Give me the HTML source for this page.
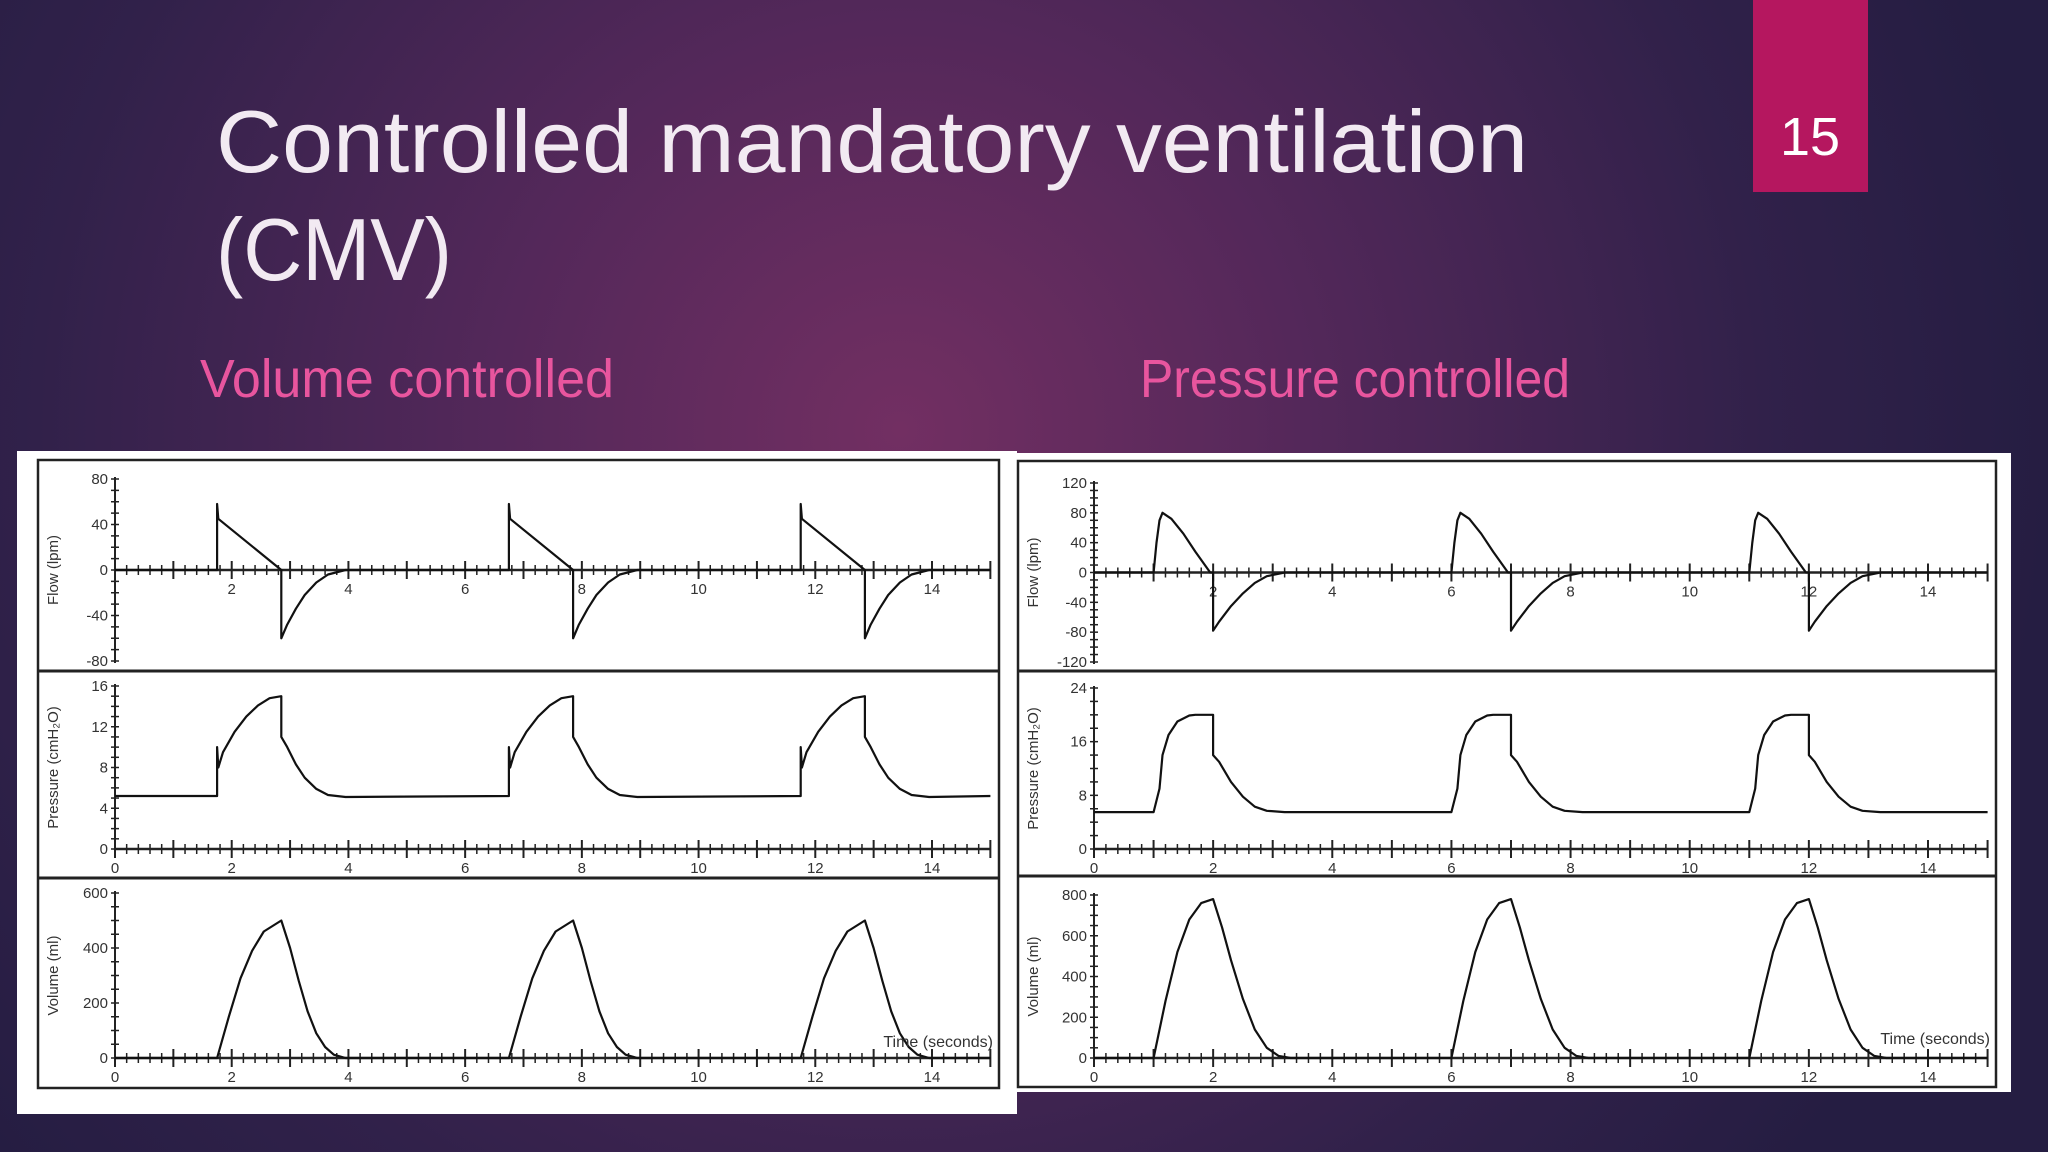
<!DOCTYPE html>
<html><head><meta charset="utf-8">
<style>
html,body{margin:0;padding:0;width:2048px;height:1152px;overflow:hidden;background:#2a1f45;}
svg{display:block}
</style></head>
<body>
<svg id="slide" width="2048" height="1152" viewBox="0 0 2048 1152" xmlns="http://www.w3.org/2000/svg">
<defs>
<radialGradient id="bg" cx="900" cy="430" r="1150" gradientUnits="userSpaceOnUse">
<stop offset="0" stop-color="#722f62"/>
<stop offset="0.35" stop-color="#54285a"/>
<stop offset="0.75" stop-color="#31214a"/>
<stop offset="1" stop-color="#251d42"/>
</radialGradient>
</defs>
<rect x="0" y="0" width="2048" height="1152" fill="url(#bg)"/>
<g fill="#f2eaf2" font-family="Liberation Sans, sans-serif" font-size="88">
<text x="216" y="172" textLength="1312" lengthAdjust="spacingAndGlyphs">Controlled mandatory ventilation</text>
<text x="216" y="280" textLength="236" lengthAdjust="spacingAndGlyphs">(CMV)</text>
</g>
<rect x="1753" y="0" width="115" height="192" fill="#b5175f"/>
<text x="1810" y="155" text-anchor="middle" fill="#ffffff" font-family="Liberation Sans, sans-serif" font-size="54">15</text>
<text x="200" y="397" fill="#e8559e" font-family="Liberation Sans, sans-serif" font-size="54" textLength="414" lengthAdjust="spacingAndGlyphs">Volume controlled</text>
<text x="1140" y="397" fill="#e8559e" font-family="Liberation Sans, sans-serif" font-size="54" textLength="430" lengthAdjust="spacingAndGlyphs">Pressure controlled</text>
<g id="charts"></g>
</svg>
<script>
// ---- data: one breath template (offset seconds from breath start, value) ----
const vcBreathStarts = [1.75, 6.75, 11.75];
const vcFlowT = [0, 0, 0.02, 1.1, 1.1, 1.2, 1.35, 1.5, 1.7, 1.9, 2.2];
const vcFlowV = [0, 58, 45, 0, -60, -48, -34, -22, -11, -4, 0];
const vcFlowBase = 0;
const vcPresT = [0, 0, 0.02, 0.1, 0.3, 0.5, 0.7, 0.9, 1.1, 1.1, 1.2, 1.35, 1.5, 1.7, 1.9, 2.2];
const vcPresV = [5.2, 10, 8, 9.5, 11.5, 13, 14.1, 14.8, 15, 11, 10, 8.3, 7, 5.9, 5.3, 5.1];
const vcPresBase = 5.2;
const vcVolT = [0, 0.2, 0.4, 0.6, 0.8, 1.1, 1.25, 1.4, 1.55, 1.7, 1.85, 2.0, 2.2];
const vcVolV = [0, 150, 290, 390, 460, 500, 400, 280, 170, 90, 40, 12, 0];
const vcVolBase = 0;

const pcBreathStarts = [1.0, 6.0, 11.0];
const pcFlowT = [0, 0.05, 0.1, 0.15, 0.3, 0.5, 0.7, 0.95, 1.0, 1.0, 1.1, 1.3, 1.5, 1.7, 1.9, 2.2];
const pcFlowV = [0, 40, 70, 80, 72, 52, 28, 0, 0, -78, -66, -45, -28, -14, -5, 0];
const pcFlowBase = 0;
const pcPresT = [0, 0.1, 0.15, 0.25, 0.4, 0.6, 0.7, 1.0, 1.0, 1.1, 1.3, 1.5, 1.7, 1.9, 2.2];
const pcPresV = [5.5, 9, 14, 17, 19, 19.9, 20, 20, 14, 13, 10, 7.8, 6.3, 5.7, 5.5];
const pcPresBase = 5.5;
const pcVolT = [0, 0.2, 0.4, 0.6, 0.8, 1.0, 1.15, 1.3, 1.5, 1.7, 1.9, 2.1, 2.3];
const pcVolV = [0, 280, 520, 680, 760, 780, 640, 480, 290, 140, 50, 10, 0];
const pcVolBase = 0;

const xTickLabels = [0, 2, 4, 6, 8, 10, 12, 14];
const vcFlowTicks = [80, 40, 0, -40, -80];
const vcPresTicks = [16, 12, 8, 4, 0];
const vcVolTicks = [600, 400, 200, 0];
const pcFlowTicks = [120, 80, 40, 0, -40, -80, -120];
const pcPresTicks = [24, 16, 8, 0];
const pcVolTicks = [800, 600, 400, 200, 0];

const NS = 'http://www.w3.org/2000/svg';
const root = document.getElementById('charts');
function mk(tag, attrs, parent) {
  const e = document.createElementNS(NS, tag);
  for (const k in attrs) e.setAttribute(k, attrs[k]);
  (parent || root).appendChild(e);
  return e;
}

function drawPanel(p) {
  const g = mk('g', {});
  
  
  const xs = t => p.x0 + (t / 14) * (p.x14 - p.x0);
  const ys = v => p.yBot + (v - p.vMin) / (p.vMax - p.vMin) * (p.yTop - p.yBot);
  const y0 = ys(0);
  // y axis line
  const ya = mk('line', {x1: xs(0), x2: xs(0), y1: p.yTop - 2, y2: p.yBot + 2, stroke: '#222', 'stroke-width': 2}, g);
  
  
  // y minor ticks
  const step = (p.vMax - p.vMin) / ((p.yTicks.length - 1) * 4);
  for (let v = p.vMin; v <= p.vMax + 1e-6; v += step) {
    mk('line', {x1: xs(0) - 4, x2: xs(0) + 4, y1: ys(v), y2: ys(v), stroke: '#222', 'stroke-width': 1.5}, g);
  }
  p.yTicks.forEach(v => {
    const t = mk('text', {x: xs(0) - 7, y: ys(v) + 5, 'text-anchor': 'end', 'font-size': 15, fill: '#333', 'font-family': 'Liberation Sans Narrow, Liberation Sans, sans-serif'}, g);
    t.textContent = v;
    
    
  });
  // x axis
  const xa = mk('line', {x1: xs(0), x2: xs(15), y1: y0, y2: y0, stroke: '#222', 'stroke-width': 2.5}, g);
  
  
  for (let i = 0; i <= 75; i++) {
    const t = i * 0.2;
    const major = i % 5 === 0;
    mk('line', {x1: xs(t), x2: xs(t), y1: y0 - (major ? 9 : 5), y2: y0 + (major ? 9 : 5), stroke: '#222', 'stroke-width': major ? 2 : 1.5}, g);
  }
  xTickLabels.forEach(v => {
    if (p.skipZero && v === 0) return;
    const t = mk('text', {x: xs(v), y: y0 + 24, 'text-anchor': 'middle', 'font-size': 15, fill: '#333', 'font-family': 'Liberation Sans Narrow, Liberation Sans, sans-serif'}, g);
    t.textContent = v;
    
    
  });
  // axis title
  const at = mk('text', {x: 0, y: 0, transform: `translate(${p.titleX},${(p.yTop + p.yBot) / 2}) rotate(-90)`, 'text-anchor': 'middle', 'font-size': 15, fill: '#333', 'font-family': 'Liberation Sans, sans-serif'}, g);
  at.textContent = p.title;
  
  
  // series
  let pts = [[0, p.base]];
  p.starts.forEach(s => {
    pts.push([s, p.base]);
    p.T.forEach((t, i) => pts.push([s + t, p.V[i]]));
  });
  pts.push([15, p.base]);
  let d = pts.map((q, i) => (i ? 'L' : 'M') + xs(q[0]).toFixed(1) + ',' + ys(q[1]).toFixed(1)).join(' ');
  const path = mk('path', {d: d, fill: 'none', stroke: '#111', 'stroke-width': 2.2, 'stroke-linejoin': 'round'}, g);
  
  
  if (p.timeLabel) {
    const tl = mk('text', {x: p.timeLabel[0], y: p.timeLabel[1], 'text-anchor': 'end', 'font-size': 16, fill: '#333', 'font-family': 'Liberation Sans Narrow, Liberation Sans, sans-serif'}, g);
    tl.textContent = 'Time (seconds)';
    
    
  }
}

function drawFigure(f) {
  const bg = mk('rect', {x: f.bx, y: f.by, width: f.bw, height: f.bh, fill: '#ffffff'});
  
  
  const fr = mk('rect', {x: f.fx, y: f.fy, width: f.fw, height: f.fh, fill: 'none', stroke: '#222', 'stroke-width': 2.5});
  
  
  f.seps.forEach(y => {
    const s = mk('line', {x1: f.fx, x2: f.fx + f.fw, y1: y, y2: y, stroke: '#222', 'stroke-width': 3});
    
    
  });
}

drawFigure({name: 'volume-controlled-chart', bx: 17, by: 451, bw: 1000, bh: 663, fx: 38, fy: 460, fw: 961, fh: 628, seps: [671, 878]});
drawFigure({name: 'pressure-controlled-chart', bx: 1017, by: 453, bw: 994, bh: 639, fx: 1018, fy: 461, fw: 978, fh: 626, seps: [671, 876]});

drawPanel({name: 'vc-flow', x0: 115, x14: 932, yTop: 479, yBot: 661, vMin: -80, vMax: 80, yTicks: vcFlowTicks, skipZero: true, titleX: 58, title: 'Flow (lpm)', starts: vcBreathStarts, T: vcFlowT, V: vcFlowV, base: vcFlowBase});
drawPanel({name: 'vc-pressure', x0: 115, x14: 932, yTop: 686, yBot: 849, vMin: 0, vMax: 16, yTicks: vcPresTicks, titleX: 58, title: 'Pressure (cmH₂O)', starts: vcBreathStarts, T: vcPresT, V: vcPresV, base: vcPresBase});
drawPanel({name: 'vc-volume', x0: 115, x14: 932, yTop: 893, yBot: 1058, vMin: 0, vMax: 600, yTicks: vcVolTicks, titleX: 58, title: 'Volume (ml)', starts: vcBreathStarts, T: vcVolT, V: vcVolV, base: vcVolBase, timeLabel: [993, 1047]});

drawPanel({name: 'pc-flow', x0: 1094, x14: 1928, yTop: 483, yBot: 662, vMin: -120, vMax: 120, yTicks: pcFlowTicks, skipZero: true, titleX: 1038, title: 'Flow (lpm)', starts: pcBreathStarts, T: pcFlowT, V: pcFlowV, base: pcFlowBase});
drawPanel({name: 'pc-pressure', x0: 1094, x14: 1928, yTop: 688, yBot: 849, vMin: 0, vMax: 24, yTicks: pcPresTicks, titleX: 1038, title: 'Pressure (cmH₂O)', starts: pcBreathStarts, T: pcPresT, V: pcPresV, base: pcPresBase});
drawPanel({name: 'pc-volume', x0: 1094, x14: 1928, yTop: 895, yBot: 1058, vMin: 0, vMax: 800, yTicks: pcVolTicks, titleX: 1038, title: 'Volume (ml)', starts: pcBreathStarts, T: pcVolT, V: pcVolV, base: pcVolBase, timeLabel: [1990, 1044]});
</script>
</body></html>
